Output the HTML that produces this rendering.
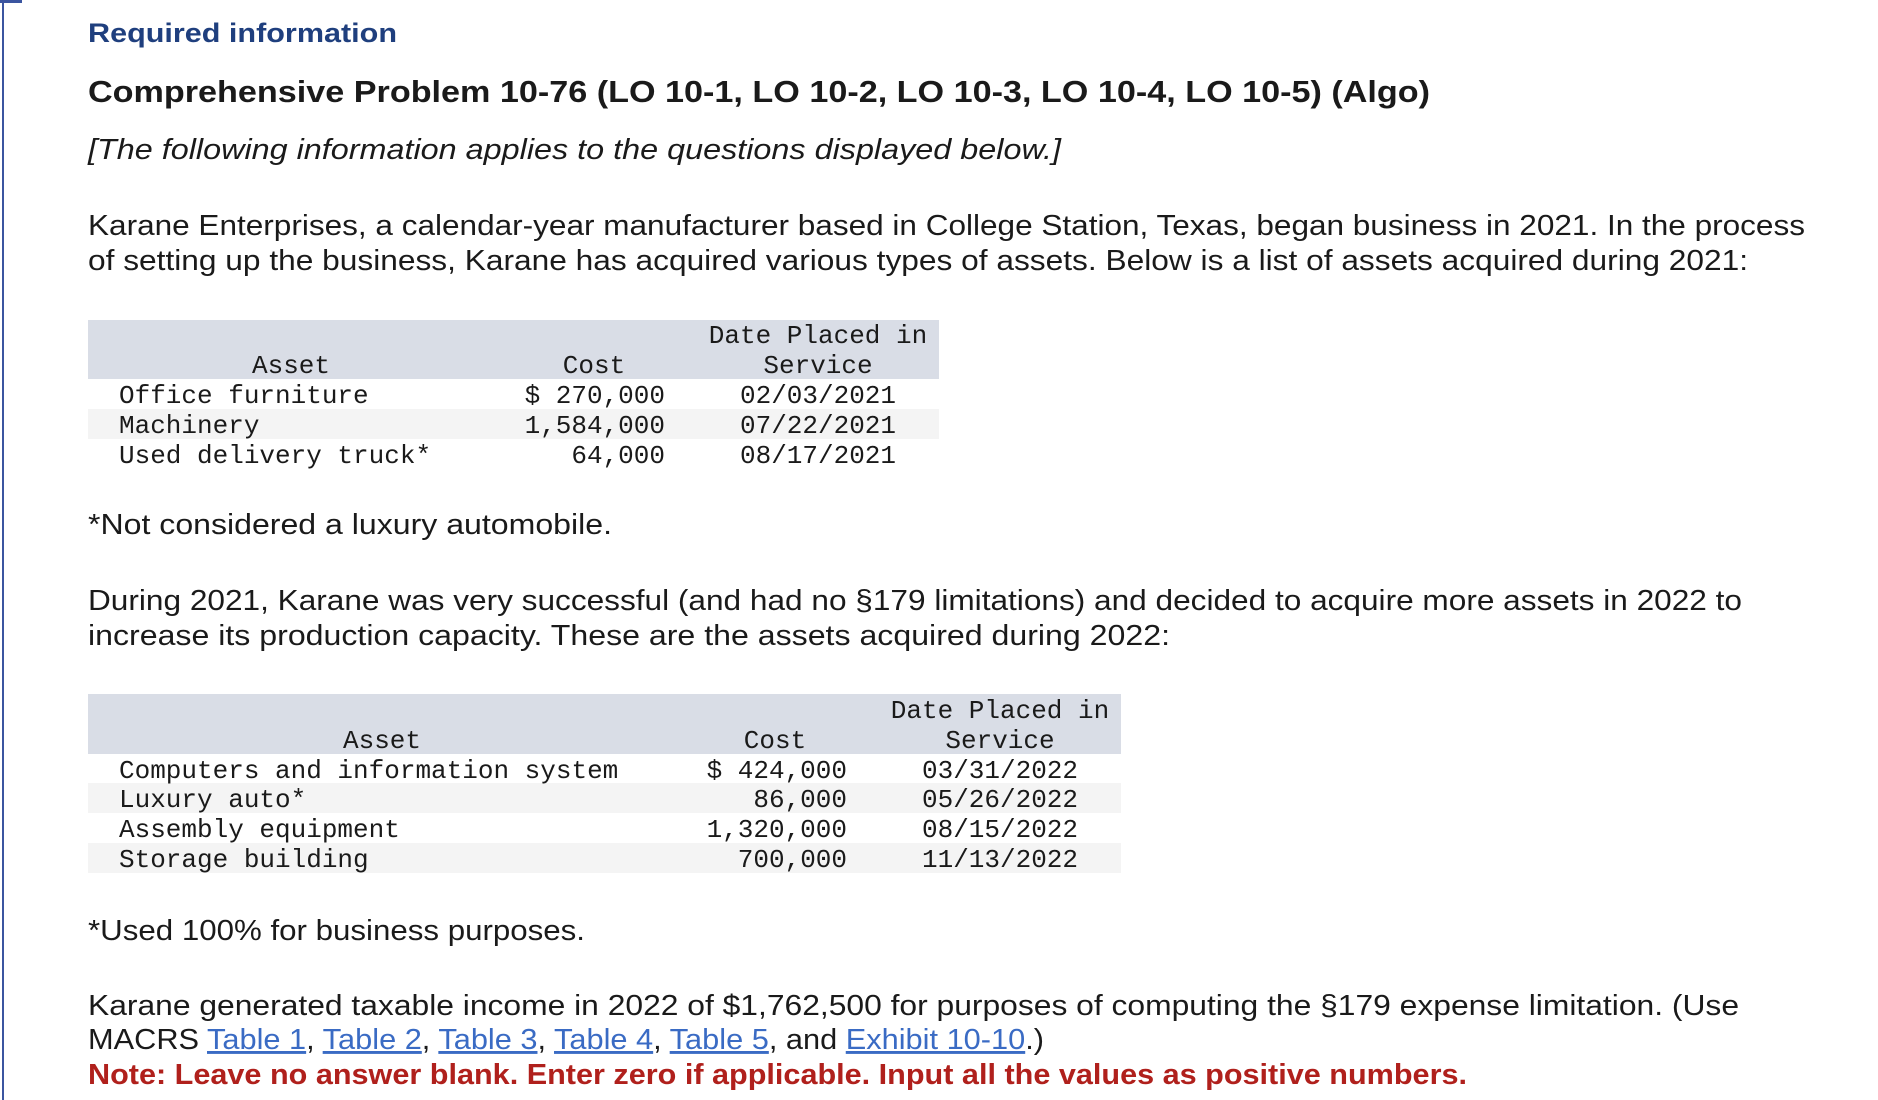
<!DOCTYPE html>
<html><head><meta charset="utf-8"><style>
html,body{margin:0;padding:0;background:#fff;}
svg{display:block;}
.s{font-family:"Liberation Sans",sans-serif;fill:#1a1a1a;}
.m{font-family:"Liberation Mono",monospace;font-size:26px;fill:#1a1a1a;}
.lk{fill:#3a6bc4;text-decoration:underline;}
</style></head><body>
<svg width="1878" height="1100" viewBox="0 0 1878 1100">
<rect x="2" y="0" width="2" height="1100" fill="#3b55a0"/>
<rect x="0" y="0" width="22" height="3" fill="#3b55a0"/>

<text class="s" x="88" y="42" font-size="27" font-weight="bold" style="fill:#1f3f7e" textLength="309" lengthAdjust="spacingAndGlyphs">Required information</text>
<text class="s" x="88" y="102" font-size="31" font-weight="bold" textLength="1342" lengthAdjust="spacingAndGlyphs">Comprehensive Problem 10-76 (LO 10-1, LO 10-2, LO 10-3, LO 10-4, LO 10-5) (Algo)</text>
<text class="s" x="88" y="159" font-size="29" font-style="italic" textLength="973" lengthAdjust="spacingAndGlyphs">[The following information applies to the questions displayed below.]</text>

<g>
<text class="s" x="88" y="235" font-size="29" textLength="1717" lengthAdjust="spacingAndGlyphs">Karane Enterprises, a calendar-year manufacturer based in College Station, Texas, began business in 2021. In the process</text>
<text class="s" x="88" y="270" font-size="29" textLength="1660" lengthAdjust="spacingAndGlyphs">of setting up the business, Karane has acquired various types of assets. Below is a list of assets acquired during 2021:</text>
</g>

<g>
<rect x="88" y="320" width="851" height="59" fill="#d9dde6"/>
<rect x="88" y="409" width="851" height="30" fill="#f4f4f4"/>
<text class="m" x="818" y="343" text-anchor="middle">Date Placed in</text>
<text class="m" x="291" y="373" text-anchor="middle">Asset</text>
<text class="m" x="594" y="373" text-anchor="middle">Cost</text>
<text class="m" x="818" y="373" text-anchor="middle">Service</text>
<text class="m" x="119" y="403">Office furniture</text>
<text class="m" x="665" y="403" text-anchor="end">$ 270,000</text>
<text class="m" x="818" y="403" text-anchor="middle">02/03/2021</text>
<text class="m" x="119" y="433">Machinery</text>
<text class="m" x="665" y="433" text-anchor="end">1,584,000</text>
<text class="m" x="818" y="433" text-anchor="middle">07/22/2021</text>
<text class="m" x="119" y="463">Used delivery truck*</text>
<text class="m" x="665" y="463" text-anchor="end">64,000</text>
<text class="m" x="818" y="463" text-anchor="middle">08/17/2021</text>
</g>

<text class="s" x="88" y="534" font-size="29" textLength="524" lengthAdjust="spacingAndGlyphs">*Not considered a luxury automobile.</text>

<g>
<text class="s" x="88" y="610" font-size="29" textLength="1654" lengthAdjust="spacingAndGlyphs">During 2021, Karane was very successful (and had no §179 limitations) and decided to acquire more assets in 2022 to</text>
<text class="s" x="88" y="645" font-size="29" textLength="1082" lengthAdjust="spacingAndGlyphs">increase its production capacity. These are the assets acquired during 2022:</text>
</g>

<g>
<rect x="88" y="694" width="1033" height="60" fill="#d9dde6"/>
<rect x="88" y="783" width="1033" height="30" fill="#f4f4f4"/>
<rect x="88" y="843" width="1033" height="30" fill="#f4f4f4"/>
<text class="m" x="1000" y="718" text-anchor="middle">Date Placed in</text>
<text class="m" x="382" y="748" text-anchor="middle">Asset</text>
<text class="m" x="775" y="748" text-anchor="middle">Cost</text>
<text class="m" x="1000" y="748" text-anchor="middle">Service</text>
<text class="m" x="119" y="778">Computers and information system</text>
<text class="m" x="847" y="778" text-anchor="end">$ 424,000</text>
<text class="m" x="1000" y="778" text-anchor="middle">03/31/2022</text>
<text class="m" x="119" y="807">Luxury auto*</text>
<text class="m" x="847" y="807" text-anchor="end">86,000</text>
<text class="m" x="1000" y="807" text-anchor="middle">05/26/2022</text>
<text class="m" x="119" y="837">Assembly equipment</text>
<text class="m" x="847" y="837" text-anchor="end">1,320,000</text>
<text class="m" x="1000" y="837" text-anchor="middle">08/15/2022</text>
<text class="m" x="119" y="867">Storage building</text>
<text class="m" x="847" y="867" text-anchor="end">700,000</text>
<text class="m" x="1000" y="867" text-anchor="middle">11/13/2022</text>
</g>

<text class="s" x="88" y="940" font-size="29" textLength="497" lengthAdjust="spacingAndGlyphs">*Used 100% for business purposes.</text>

<text class="s" x="88" y="1015" font-size="29" textLength="1651" lengthAdjust="spacingAndGlyphs">Karane generated taxable income in 2022 of $1,762,500 for purposes of computing the §179 expense limitation. (Use</text>
<text class="s" x="88" y="1049" font-size="29" textLength="956" lengthAdjust="spacingAndGlyphs">MACRS <tspan class="lk">Table 1</tspan>, <tspan class="lk">Table 2</tspan>, <tspan class="lk">Table 3</tspan>, <tspan class="lk">Table 4</tspan>, <tspan class="lk">Table 5</tspan>, and <tspan class="lk">Exhibit 10-10</tspan>.)</text>
<text class="s" x="88" y="1084" font-size="29" font-weight="bold" style="fill:#b0201c" textLength="1379" lengthAdjust="spacingAndGlyphs">Note: Leave no answer blank. Enter zero if applicable. Input all the values as positive numbers.</text>
</svg>
</body></html>
